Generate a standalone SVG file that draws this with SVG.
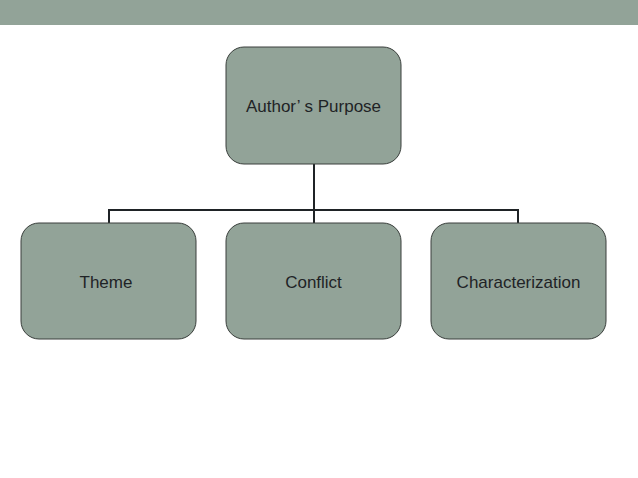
<svg xmlns="http://www.w3.org/2000/svg" width="638" height="478" viewBox="0 0 638 478">
<style>
.box{fill:#92a398;stroke:#3a3f3c;stroke-width:1}
.t{font-family:"Liberation Sans",Arial,sans-serif;font-size:17px;fill:#1f2326;text-anchor:middle}
.c{fill:none;stroke:#1f2326;stroke-width:2}
</style>
<rect width="638" height="478" fill="#fff"/>
<rect width="638" height="25" fill="#92a398"/>
<g id="connectors">
<path class="c" d="M314 164V223M109 223V210H518V223"/>
</g>
<g id="purpose"><rect class="box" x="226" y="47" width="175" height="117" rx="18"/><text class="t" x="313.5" y="112">Author’ s Purpose</text></g>
<g id="theme"><rect class="box" x="21" y="223" width="175" height="116" rx="18"/><text class="t" x="106" y="288">Theme</text></g>
<g id="conflict"><rect class="box" x="226" y="223" width="175" height="116" rx="18"/><text class="t" x="313.5" y="288">Conflict</text></g>
<g id="characterization"><rect class="box" x="431" y="223" width="175" height="116" rx="18"/><text class="t" x="518.5" y="288">Characterization</text></g>
</svg>
